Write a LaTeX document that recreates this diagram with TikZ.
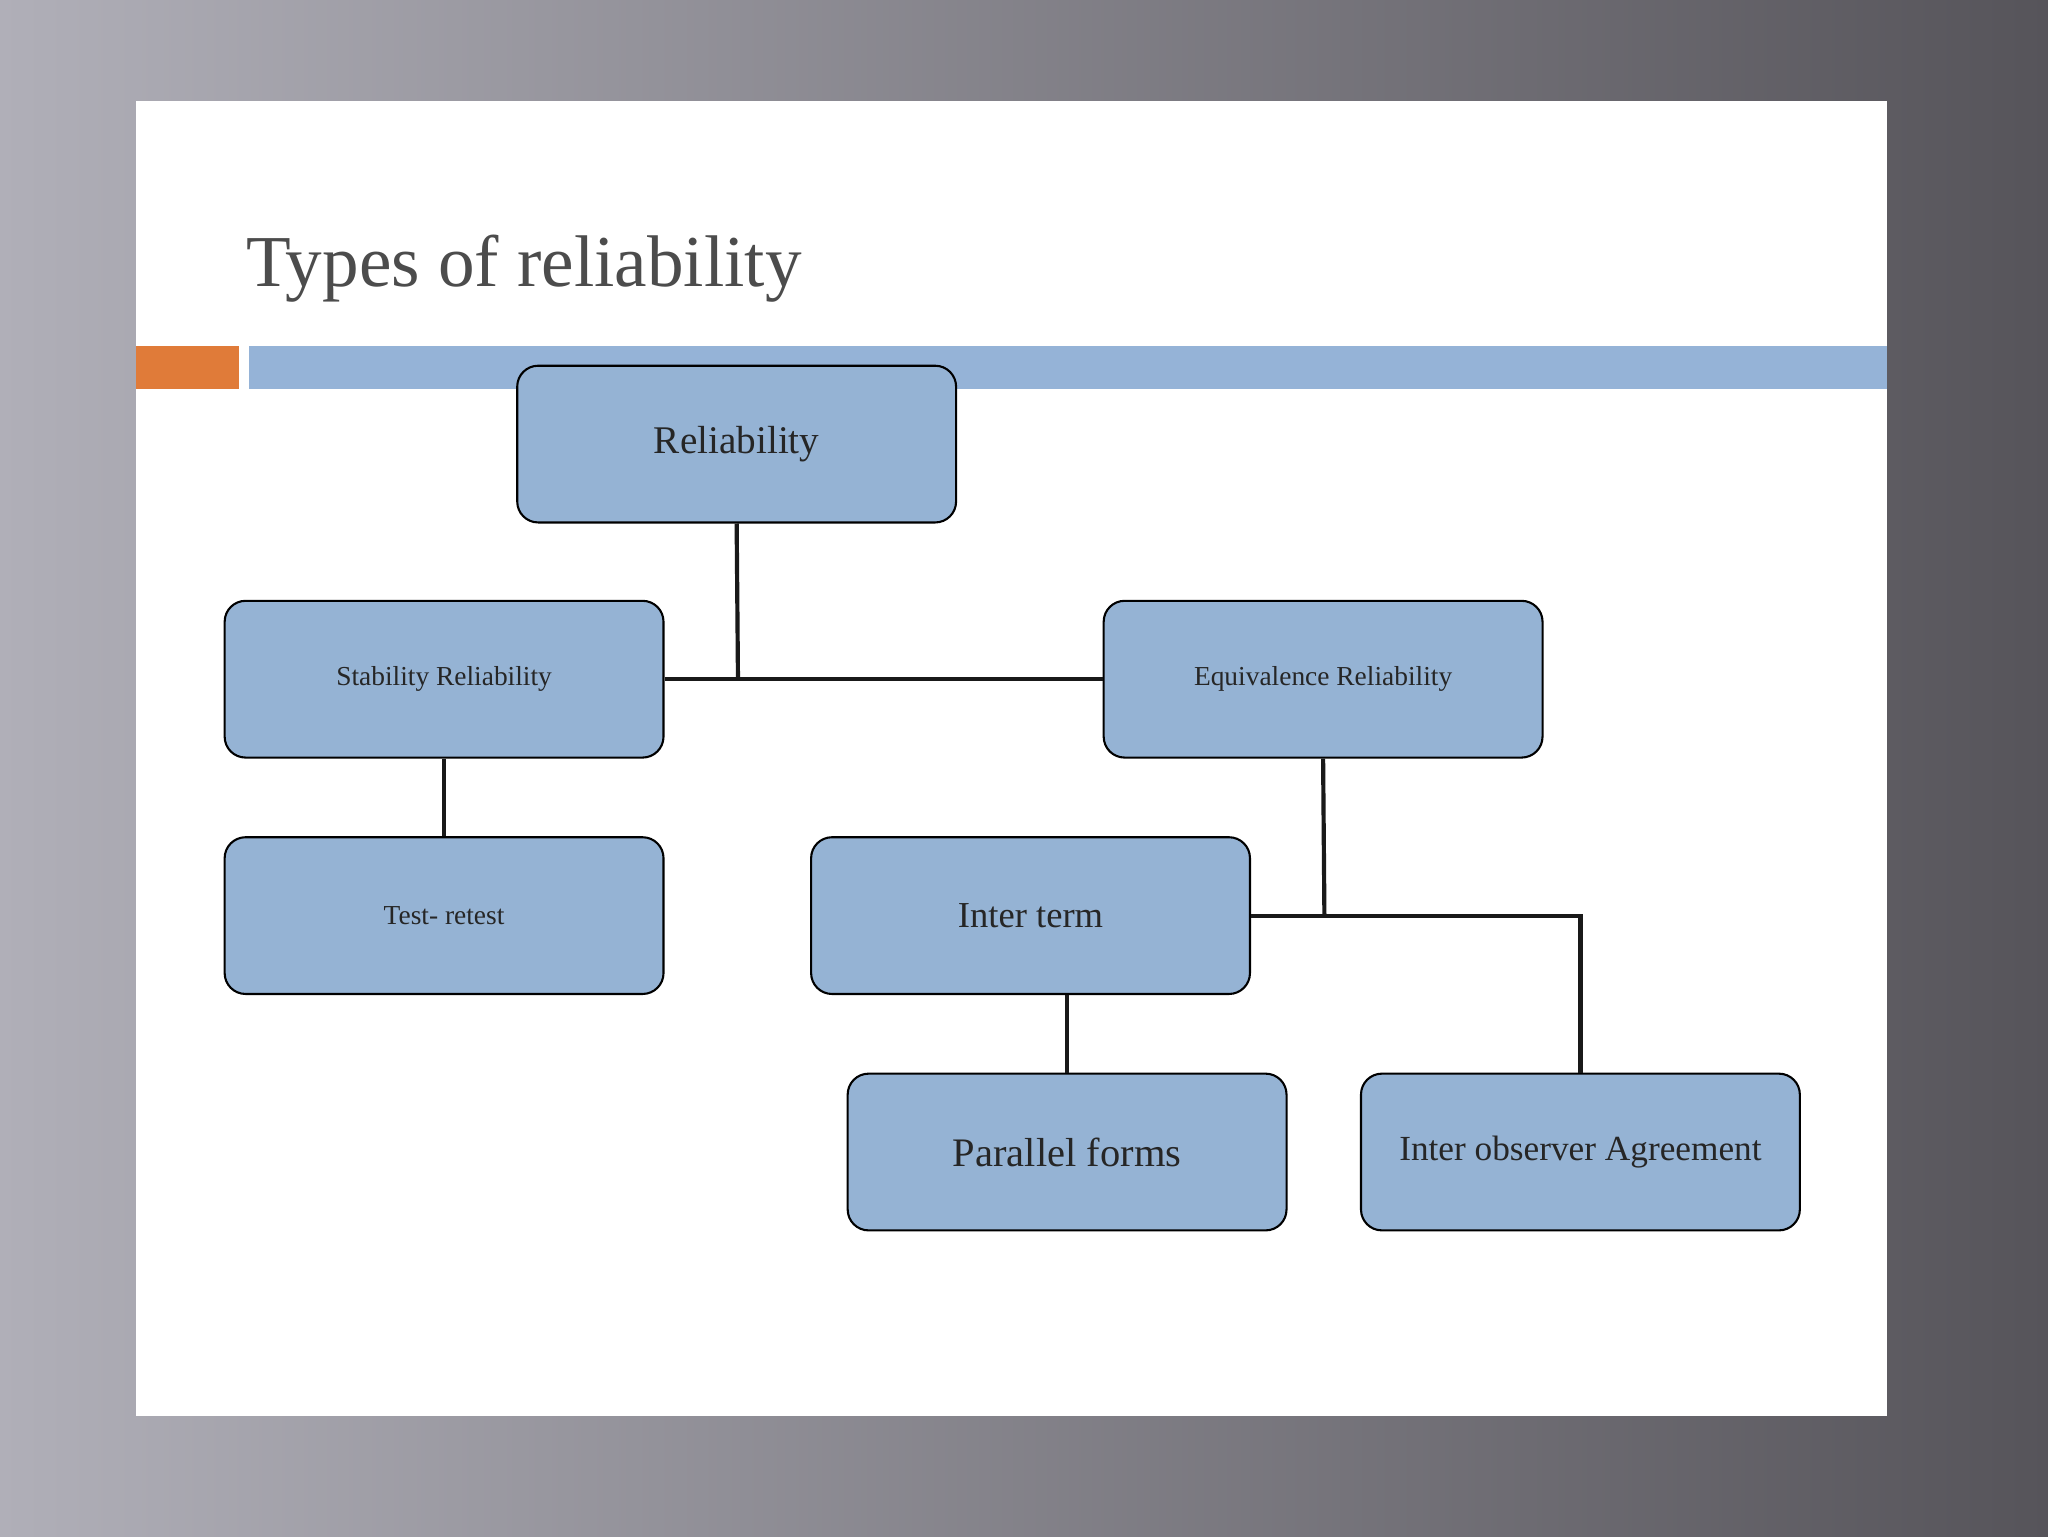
\documentclass[tikz,border=0pt]{standalone}
\usepackage{fontspec}
\setmainfont{Liberation Serif}
\definecolor{boxblue}{HTML}{95B3D4}
\definecolor{barblue}{HTML}{95B3D7}
\definecolor{barorange}{HTML}{E07B39}
\definecolor{bgl}{HTML}{B0AFB8}
\definecolor{bgr}{HTML}{56545A}
\begin{document}
\begin{tikzpicture}[x=1pt,y=-1pt,
  bx/.style={draw=black,line width=1.6pt,fill=boxblue,rounded corners=16pt,minimum width=336pt,minimum height=120pt,inner sep=0pt,text=black!85},
  ln/.style={line width=3.2pt,black!90}]
\useasboundingbox (0,0) rectangle (1568,1176);
\shade[left color=bgl,right color=bgr] (0,0) rectangle (1568,1176);
\fill[white] (104,77) rectangle (1445,1084);
\node[anchor=west,text=black!70,font=\fontsize{56}{60}\selectfont] (title) at (185,206) {Types of reliability};
\fill[barorange] (104,265) rectangle (183,298);
\fill[barblue] (191,265) rectangle (1445,298);
\node[bx,font=\fontsize{30}{34}\selectfont] (rel) at (564,340) {Reliability};
\node[bx,font=\fontsize{21}{24}\selectfont] (stab) at (340,520) {Stability Reliability};
\node[bx,font=\fontsize{21}{24}\selectfont] (equ) at (1013,520) {Equivalence Reliability};
\node[bx,font=\fontsize{21}{24}\selectfont] (test) at (340,701) {Test- retest};
\node[bx,font=\fontsize{28}{32}\selectfont] (inter) at (789,701) {Inter term};
\node[bx,font=\fontsize{31}{34}\selectfont] (par) at (817,882) {Parallel forms};
\node[bx,font=\fontsize{27}{30}\selectfont] (obs) at (1210,882) {Inter observer Agreement};
\coordinate (j1) at (565,519);
\coordinate (j2) at (1014,701);
\draw[ln] (stab.east) -- (equ.west);
\draw[ln] (rel.south) -- (j1);
\draw[ln] (stab.south) -- (test.north);
\draw[ln] (equ.south) -- (j2);
\draw[ln] (inter.east) -- (obs.north |- inter.east) -- (obs.north);
\draw[ln] (par.north) -- (par.north |- inter.south);
\end{tikzpicture}
\end{document}
